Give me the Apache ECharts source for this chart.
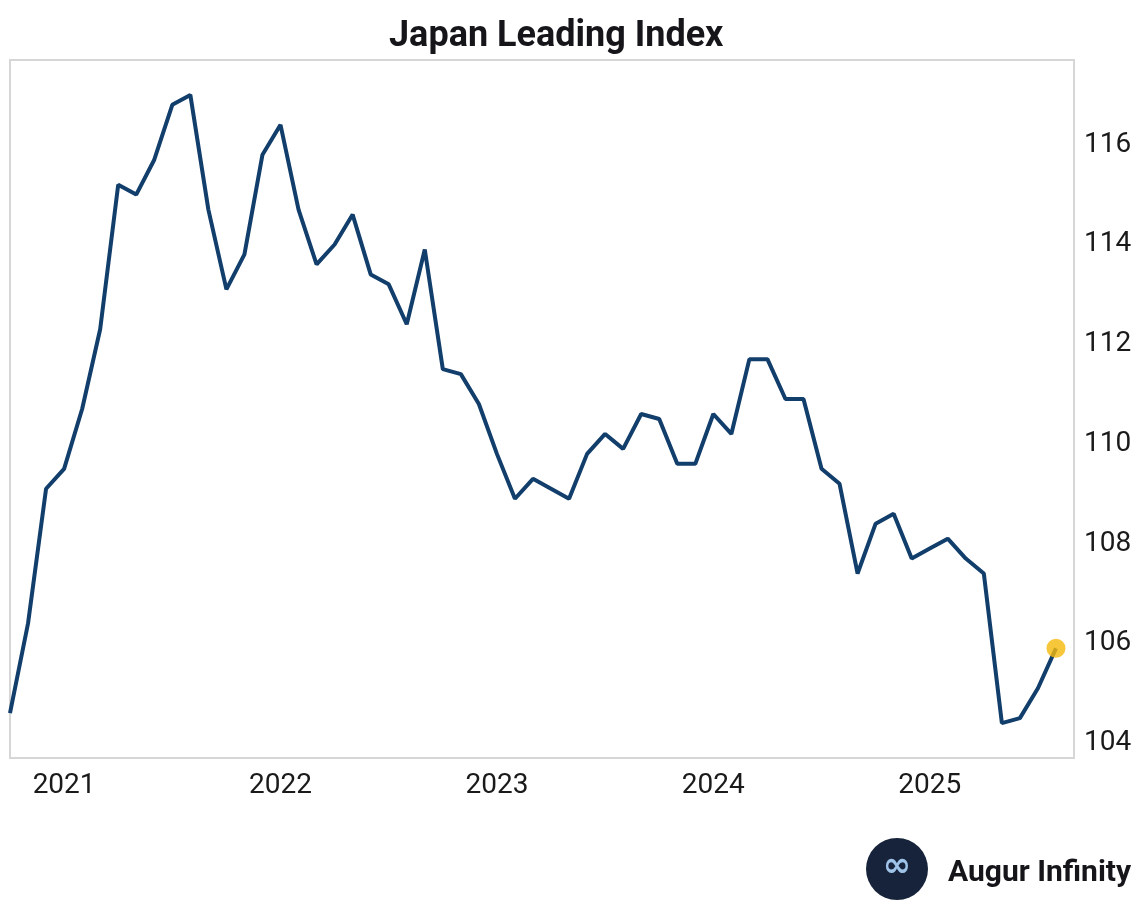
<!DOCTYPE html>
<html>
<head>
<meta charset="utf-8">
<title>Japan Leading Index</title>
<script src="https://cdn.jsdelivr.net/npm/echarts@6/dist/echarts.min.js"></script>
<style>
  html, body { margin: 0; padding: 0; background: #fff; }
  #chart { width: 1146px; height: 919px; }
</style>
</head>
<body>
<div id="chart"></div>
<script>
// monthly dates, Oct 2020 .. Sep 2025 (axis runs one month past the last reading)
var months = [];
for (var y = 2020; y <= 2025; y++) {
    for (var m = 1; m <= 12; m++) {
        if (y === 2020 && m < 10) continue;
        if (y === 2025 && m > 9) continue;
        months.push(y + '-' + (m < 10 ? '0' + m : m));
    }
}

// leading index readings
var leadingIndex = [
    104.6, 106.4, 109.1,                                   // 2020 Oct-Dec
    109.5, 110.7, 112.3, 115.2, 115.0, 115.7, 116.8, 117.0, 114.7, 113.1, 113.8, 115.8, // 2021
    116.4, 114.7, 113.6, 114.0, 114.6, 113.4, 113.2, 112.4, 113.9, 111.5, 111.4, 110.8, // 2022
    109.8, 108.9, 109.3, 109.1, 108.9, 109.8, 110.2, 109.9, 110.6, 110.5, 109.6, 109.6, // 2023
    110.6, 110.2, 111.7, 111.7, 110.9, 110.9, 109.5, 109.2, 107.4, 108.4, 108.6, 107.7, // 2024
    107.9, 108.1, 107.7, 107.4, 104.4, 104.5, 105.1, 105.9                                // 2025
];

var yTicks = [104, 106, 108, 110, 112, 114, 116];

var lastIdx = leadingIndex.length - 1;
var lastPoint = [[months[lastIdx], leadingIndex[lastIdx]]];

var myChart = echarts.init(document.getElementById('chart'));

var font = 'Roboto, "Noto Sans", sans-serif';

option = {
    backgroundColor: '#ffffff',
    animation: false,
    title: {
        text: 'Japan Leading Index',
        left: 384,
        top: 14,
        textStyle: {
            fontFamily: font,
            fontSize: 36,
            fontWeight: 'bold',
            color: '#15151a'
        }
    },
    grid: {
        left: 10,
        right: 72,
        top: 60,
        bottom: 161,
        show: true,
        borderColor: '#d6d6d6',
        borderWidth: 2,
        backgroundColor: 'transparent'
    },
    xAxis: {
        type: 'category',
        boundaryGap: false,
        data: months,
        axisLine: { show: false },
        axisTick: { show: false },
        splitLine: { show: false },
        axisLabel: {
            margin: 14,
            fontFamily: font,
            fontSize: 28,
            color: '#1a1a1a',
            interval: function (i, v) { return /-01$/.test(v); },
            formatter: function (v) { return v.slice(0, 4); }
        }
    },
    yAxis: {
        type: 'value',
        position: 'right',
        min: 103.7,
        max: 117.7,
        axisLine: { show: false },
        axisTick: { show: false },
        splitLine: { show: false },
        axisLabel: {
            margin: 10,
            fontFamily: font,
            fontSize: 28,
            color: '#1a1a1a',
            customValues: yTicks
        }
    },
    series: [
        {
            name: 'Japan Leading Index',
            type: 'line',
            data: leadingIndex,
            showSymbol: false,
            lineStyle: { color: '#123e6c', width: 4 },
            z: 2
        },
        {
            name: 'latest',
            type: 'scatter',
            data: lastPoint,
            symbolSize: 19,
            itemStyle: { color: '#f5b90a' },
            z: 3
        }
    ],
    graphic: [
        {
            type: 'circle',
            shape: { cx: 897, cy: 869, r: 31 },
            style: { fill: '#16233a' }
        },
        {
            type: 'text',
            x: 897,
            y: 867,
            style: {
                text: '∞',
                fontFamily: '"DejaVu Sans", sans-serif',
                fontSize: 34,
                fontWeight: 'bold',
                fill: '#9fc3e8',
                align: 'center',
                verticalAlign: 'middle'
            }
        },
        {
            type: 'text',
            x: 948,
            y: 873,
            style: {
                text: 'Augur Infinity',
                fontFamily: font,
                fontSize: 30,
                fontWeight: 'bold',
                fill: '#15151a',
                verticalAlign: 'middle'
            }
        }
    ]
};

myChart.setOption(option);
</script>
</body>
</html>
